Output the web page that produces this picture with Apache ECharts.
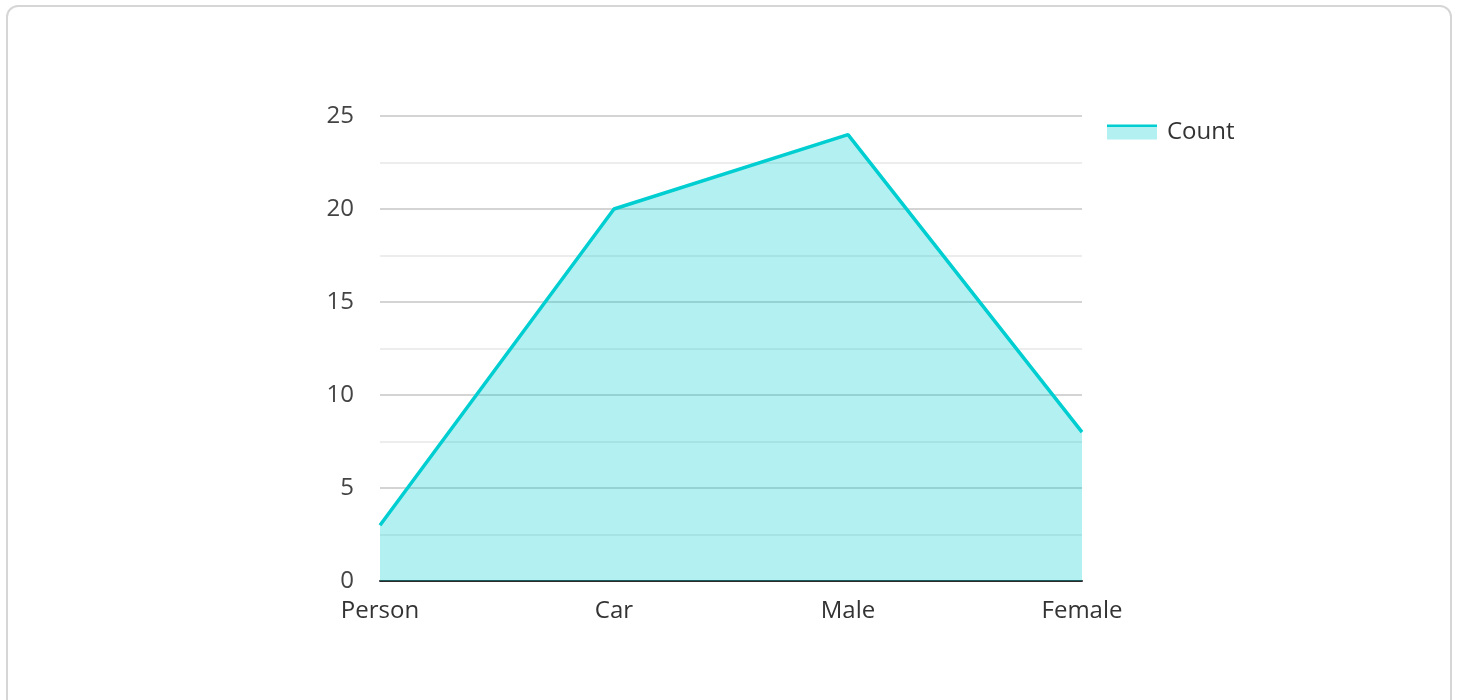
<!DOCTYPE html>
<html>
<head>
<meta charset="utf-8">
<script src="https://cdn.jsdelivr.net/npm/echarts@6/dist/echarts.min.js"></script>
<style>
  html, body { margin: 0; padding: 0; background: #fff; }
  #card {
    position: absolute; left: 6px; top: 5px; width: 1446px; height: 720px;
    border: 2px solid #d6d6d6; border-radius: 12px; box-sizing: border-box;
  }
  #chart { position: absolute; left: 0; top: 0; width: 1458px; height: 700px; }
</style>
</head>
<body>
<div id="card"></div>
<div id="chart"></div>
<script>
// Object counts per detected class
const categories = ['Person', 'Car', 'Male', 'Female'];
const countValues = [3, 20, 24, 8];
const seriesName = 'Count';

const lineColor = '#00ced1';
const areaColor = 'rgba(0, 206, 209, 0.3)';
const font = '"Open Sans", "Noto Sans", sans-serif';

const chart = echarts.init(document.getElementById('chart'), null, { renderer: 'canvas' });
chart.setOption({
  animation: false,
  textStyle: { fontFamily: font },
  grid: { left: 380, right: 376, top: 116, bottom: 119, containLabel: false },
  legend: {
    data: [seriesName],
    left: 1107, top: 120,
    padding: 0,
    itemWidth: 50, itemHeight: 15, itemGap: 10,
    icon: 'rect',
    itemStyle: {
      color: new echarts.graphic.LinearGradient(0, 0, 0, 1, [
        { offset: 0, color: lineColor },
        { offset: 0.2, color: lineColor },
        { offset: 0.2, color: '#b2f0f1' },
        { offset: 1, color: '#b2f0f1' }
      ]),
      borderWidth: 0
    },
    lineStyle: { width: 0, opacity: 0 },
    textStyle: { fontSize: 24, color: '#333', fontFamily: font, padding: [0, 0, 7, 5] }
  },
  xAxis: {
    type: 'category',
    data: categories,
    boundaryGap: false,
    axisLine: { show: true, lineStyle: { color: '#2a2a2a', width: 2 } },
    axisTick: { show: false },
    axisLabel: { fontSize: 24, color: '#333', margin: 18, fontFamily: font },
    splitLine: { show: false }
  },
  yAxis: {
    type: 'value',
    min: 0, max: 25, interval: 5,
    axisLine: { show: false },
    axisTick: { show: false },
    axisLabel: { fontSize: 24, color: '#444', margin: 26, fontFamily: font, padding: [3, 0, 0, 0] },
    splitLine: { show: true, lineStyle: { color: '#c6c6c6', width: 1.5 } },
    minorTick: { show: false, splitNumber: 2 },
    minorSplitLine: { show: true, lineStyle: { color: '#e8e8e8', width: 1.5 } }
  },
  series: [{
    name: seriesName,
    type: 'line',
    data: countValues,
    showSymbol: false,
    symbol: 'none',
    lineStyle: { color: lineColor, width: 3.5 },
    itemStyle: { color: lineColor },
    areaStyle: { color: areaColor, opacity: 1 }
  }]
});
</script>
</body>
</html>
